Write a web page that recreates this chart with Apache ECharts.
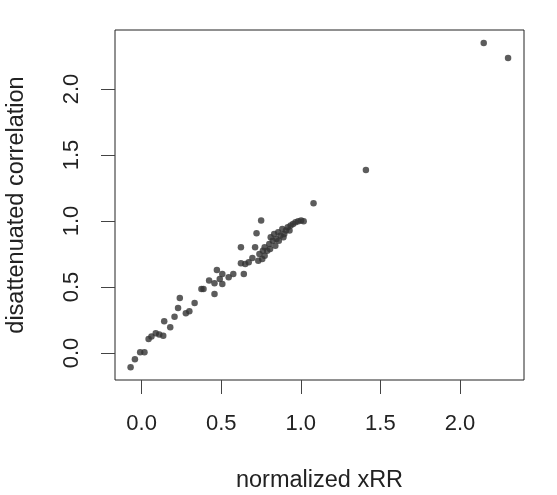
<!DOCTYPE html>
<html>
<head>
<meta charset="utf-8">
<script src="https://cdn.jsdelivr.net/npm/echarts@6/dist/echarts.min.js"></script>
<style>
html,body{margin:0;padding:0;background:#fff;}
#chart{width:557px;height:495px;}
</style>
</head>
<body>
<div id="chart"></div>
<script>
const xTicks = [0, 0.5, 1, 1.5, 2];
const yTicks = [0, 0.5, 1, 1.5, 2];
const xRR = [-0.069,-0.042,-0.009,0.018,0.044,0.062,0.089,0.111,0.136,0.142,0.180,0.207,0.229,0.240,0.278,0.300,0.333,0.376,0.389,0.424,0.458,0.458,0.473,0.491,0.507,0.507,0.547,0.576,0.624,0.624,0.642,0.651,0.673,0.696,0.713,0.722,0.733,0.740,0.751,0.762,0.773,0.789,0.802,0.811,0.824,0.833,0.847,0.858,0.873,0.884,0.896,0.907,0.918,0.936,0.951,0.967,0.984,1.002,1.018,0.840,0.807,0.862,0.929,0.891,0.773,0.758,1.080,1.409,2.149,2.302];
const corr = [-0.109,-0.048,0.005,0.005,0.106,0.124,0.149,0.139,0.131,0.240,0.194,0.275,0.341,0.417,0.301,0.316,0.379,0.485,0.485,0.548,0.447,0.528,0.629,0.561,0.598,0.523,0.573,0.598,0.801,0.679,0.598,0.674,0.687,0.720,0.801,0.907,0.699,0.750,1.003,0.775,0.737,0.775,0.826,0.876,0.851,0.902,0.864,0.914,0.889,0.939,0.902,0.927,0.952,0.965,0.977,0.990,0.997,1.003,0.997,0.813,0.788,0.851,0.927,0.876,0.801,0.712,1.134,1.386,2.348,2.235];

const pts = xRR.map((v, i) => [v, corr[i]]);
const font = '"Liberation Sans", Arial, sans-serif';
const chart = echarts.init(document.getElementById('chart'), null, {renderer: 'canvas'});
chart.setOption({
  animation: false,
  backgroundColor: '#fff',
  grid: {left: 115, right: 33, top: 30, bottom: 115, containLabel: false, outerBoundsMode: 'none',
    show: true, borderColor: '#222', borderWidth: 1, backgroundColor: 'transparent'},
  xAxis: {
    type: 'value', min: -0.167, max: 2.402,
    name: 'normalized xRR', nameLocation: 'middle', nameGap: 89,
    nameTextStyle: {fontFamily: font, fontSize: 23.5, color: '#222'},
    axisLine: {show: false, onZero: false},
    splitLine: {show: false},
    axisTick: {show: true, customValues: xTicks, length: 14, inside: false, lineStyle: {color: '#444', width: 1}},
    axisLabel: {customValues: xTicks, margin: 33, fontFamily: font, fontSize: 22, color: '#222',
      formatter: v => v.toFixed(1)}
  },
  yAxis: {
    type: 'value', min: -0.205, max: 2.447,
    name: 'disattenuated correlation', nameLocation: 'middle', nameGap: 86,
    nameTextStyle: {fontFamily: font, fontSize: 23.5, color: '#222'},
    axisLine: {show: false, onZero: false},
    splitLine: {show: false},
    axisTick: {show: true, customValues: yTicks, length: 14, inside: false, lineStyle: {color: '#444', width: 1}},
    axisLabel: {customValues: yTicks, rotate: 90, margin: 32, fontFamily: font, fontSize: 22, color: '#222',
      formatter: v => v.toFixed(1)}
  },
  series: [{
    type: 'scatter', data: pts, symbol: 'circle', symbolSize: 6.5,
    itemStyle: {color: '#333'}
  }]
});
</script>
</body>
</html>
